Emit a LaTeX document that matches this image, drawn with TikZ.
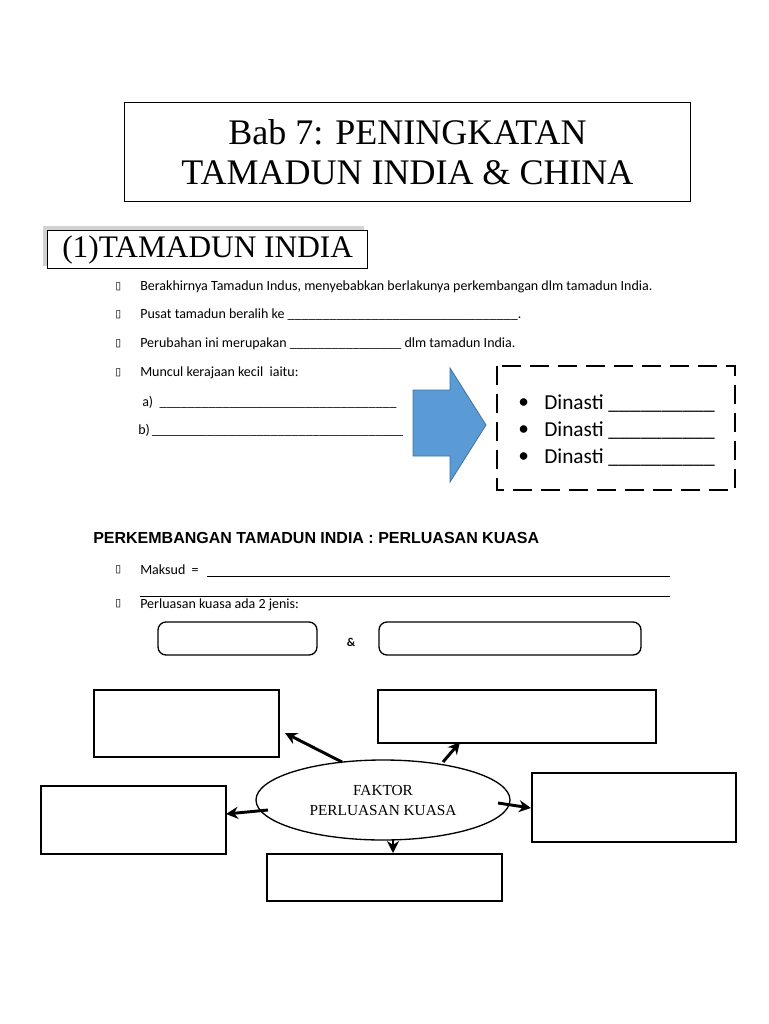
\documentclass[tikz,border=0pt]{standalone}
\usepackage{fontspec}
\setmainfont{Carlito}
\newfontfamily\serif{Liberation Serif}
\newfontfamily\arialb{Liberation Sans}
\newfontfamily\djvfont{DejaVu Sans}
\usetikzlibrary{arrows.meta,shapes.geometric}
\newcommand\us[1]{\foreach \i in {1,...,#1}{\_}}
\tikzset{
  box/.style={draw,line width=1.2pt},
  rbox/.style={draw,line width=1pt,rounded corners=6pt},
  txt/.style={anchor=west,inner sep=0pt,font=\fontsize{10.5}{12}\selectfont},
  bul/.style={anchor=west,inner sep=0pt,font=\djvfont\fontsize{8}{10}\selectfont},
  arr/.style={line width=2.2pt,-{Stealth[length=9pt,width=9pt]}},
  din/.style={anchor=west,inner sep=0pt,font=\fontsize{16}{19}\selectfont}
}
\begin{document}
\begin{tikzpicture}[x=0.75pt,y=-0.75pt]
\useasboundingbox[fill=white] (0,0) rectangle (768,1024);
% title
\node[box,line width=0.8pt,minimum width=566*0.75pt,minimum height=99*0.75pt,anchor=north west,align=center,font=\serif\fontsize{27}{30}\selectfont] (title) at (124,102) {Bab 7: PENINGKATAN\\TAMADUN INDIA \& CHINA};
% section box
\fill[gray!35] (43,226) rectangle (364,266);
\node[draw,line width=1pt,fill=white,minimum width=320*0.75pt,minimum height=38*0.75pt,anchor=north west,font=\serif\fontsize{23.5}{26}\selectfont] (sec) at (47,230) {(1)TAMADUN INDIA};
% bullets
\foreach \y in {287,315,344,373} \node[bul] at (115,\y) {▯};
\node[txt] (t1) at (140,287) {Berakhirnya Tamadun Indus, menyebabkan berlakunya perkembangan dlm tamadun India.};
\node[txt] (t2) at (140,315) {Pusat tamadun beralih ke \us{33}.};
\node[txt] (t3) at (140,344) {Perubahan ini merupakan \us{16} dlm tamadun India.};
\node[txt] (t4) at (140,373) {Muncul kerajaan kecil\ \ iaitu:};
\node[txt] (ta) at (142,402) {a)\ \ \us{34}};
\node[txt] (tb) at (138,430) {b)\,\us{36}};
% blue arrow
\draw[fill={rgb,255:red,91;green,155;blue,213},draw={rgb,255:red,65;green,113;blue,156},line width=0.6pt]
 (413,390) -- (450,390) -- (450,368) -- (486,425) -- (450,482) -- (450,456) -- (413,456) -- cycle;
% dashed box
\draw[line width=2.2pt,dash pattern=on 14pt off 7pt] (497,366) rectangle (735,490);
\foreach \y/\n in {404/d1,431/d2,458/d3}{
  \node[din] at (518,\y) {•};
  \node[din] (\n) at (544,\y) {Dinasti \us{10}};
}
% heading
\node[anchor=west,inner sep=0pt,font=\arialb\bfseries\fontsize{12}{14}\selectfont] (h) at (93,538) {PERKEMBANGAN TAMADUN INDIA : PERLUASAN KUASA};
\node[bul] at (115,570) {▯};
\node[bul] at (115,604) {▯};
\node[txt] (m) at (140,570) {Maksud\ \ =};
\draw[line width=0.5pt] (207,576) -- (670,576);
\draw[line width=0.5pt] (140,596) -- (670,596);
\node[txt] (p) at (140,605) {Perluasan kuasa ada 2 jenis:};
\draw[rbox] (158,622) rectangle (317,655);
\draw[rbox] (379,622) rectangle (641,655);
\node[inner sep=0pt,font=\bfseries\fontsize{9}{11}\selectfont] (amp) at (351,642) {\&};
% factor boxes
\node[box,anchor=north west,minimum width=185*0.75pt,minimum height=67*0.75pt] (A) at (93,689) {};
\node[box,anchor=north west,minimum width=278*0.75pt,minimum height=53*0.75pt] (B) at (377,689) {};
\node[box,anchor=north west,minimum width=185*0.75pt,minimum height=68*0.75pt] (C) at (40,785) {};
\node[box,anchor=north west,minimum width=204*0.75pt,minimum height=69*0.75pt] (D) at (531,772) {};
\node[box,anchor=north west,minimum width=235*0.75pt,minimum height=47*0.75pt] (E) at (266,853) {};
\node[draw,line width=1pt,ellipse,minimum width=254*0.75pt,minimum height=80*0.75pt,align=center,font=\serif\fontsize{11.5}{15}\selectfont] (F) at (383,800) {FAKTOR\\PERLUASAN KUASA};
\coordinate (a1) at (342,762); \coordinate (a2) at (285,733);
\coordinate (b1) at (443,762); \coordinate (b2) at (460,742);
\coordinate (c1) at (268,810); \coordinate (c2) at (226,814);
\coordinate (d1) at (498,803); \coordinate (d2) at (531,808);
\coordinate (e1) at (393,840); \coordinate (e2) at (393,853);
\draw[arr] (a1) -- (a2);
\draw[arr] (b1) -- (b2);
\draw[arr] (c1) -- (c2);
\draw[arr] (d1) -- (d2);
\draw[arr] (e1) -- (e2);
\end{tikzpicture}
\end{document}
